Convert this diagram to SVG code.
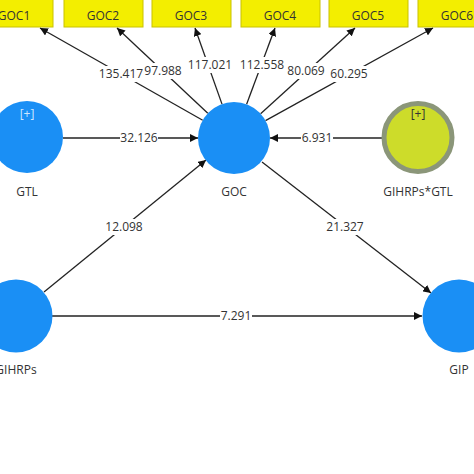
<svg xmlns="http://www.w3.org/2000/svg" width="474" height="474" viewBox="0 0 474 474">
<style>
text{font-family:"Open Sans","Liberation Sans",sans-serif;font-size:12px;fill:#333;text-anchor:middle}
.box{fill:#f3ee00;stroke:#c9c200;stroke-width:1}
.lv{fill:#1a8ff5}
.bg{fill:#fff}
.c{stroke:#222;stroke-width:1.3;fill:none;marker-end:url(#ah)}
</style>
<defs>
<marker id="ah" viewBox="0 0 10 10" refX="10" refY="5" markerWidth="8" markerHeight="8" markerUnits="userSpaceOnUse" orient="auto">
<path d="M0,0 L10,5 L0,10 z" fill="#111"/>
</marker>
</defs>
<rect width="474" height="474" fill="#fff"/>
<g id="GOC1"><rect class="box" x="-26" y="-6" width="79" height="33"/><text x="14" y="20">GOC1</text></g>
<g id="GOC2"><rect class="box" x="64" y="-6" width="79" height="33"/><text x="103" y="20">GOC2</text></g>
<g id="GOC3"><rect class="box" x="152" y="-6" width="79" height="33"/><text x="191" y="20">GOC3</text></g>
<g id="GOC4"><rect class="box" x="241" y="-6" width="79" height="33"/><text x="280" y="20">GOC4</text></g>
<g id="GOC5"><rect class="box" x="329" y="-6" width="79" height="33"/><text x="368" y="20">GOC5</text></g>
<g id="GOC6"><rect class="box" x="418" y="-6" width="79" height="33"/><text x="457" y="20">GOC6</text></g>
<g id="connectors">
<line class="c" x1="202.7" y1="120.2" x2="40" y2="28"/>
<line class="c" x1="207.8" y1="113.3" x2="117" y2="28"/>
<line class="c" x1="222" y1="104.1" x2="195" y2="28"/>
<line class="c" x1="246.6" y1="104.3" x2="275" y2="28"/>
<line class="c" x1="260.6" y1="113.8" x2="355" y2="28"/>
<line class="c" x1="265.5" y1="120.6" x2="433" y2="28"/>
<line class="c" x1="63" y1="138" x2="198" y2="138"/>
<line class="c" x1="382" y1="138" x2="270" y2="138"/>
<line class="c" x1="44" y1="292" x2="206" y2="160"/>
<line class="c" x1="262" y1="162" x2="431" y2="293"/>
<line class="c" x1="52" y1="316" x2="422" y2="316"/>
<rect class="bg" x="99" y="66" width="44" height="16"/>
<rect class="bg" x="144" y="63" width="38" height="16"/>
<rect class="bg" x="188" y="57" width="44" height="16"/>
<rect class="bg" x="240" y="57" width="44" height="16"/>
<rect class="bg" x="287" y="63" width="38" height="16"/>
<rect class="bg" x="330" y="66" width="38" height="16"/>
<rect class="bg" x="120" y="130" width="38" height="16"/>
<rect class="bg" x="301" y="130" width="32" height="16"/>
<rect class="bg" x="105" y="219" width="38" height="16"/>
<rect class="bg" x="326" y="219" width="38" height="16"/>
<rect class="bg" x="220" y="308" width="32" height="16"/>
<text x="121" y="78">135.417</text>
<text x="163" y="75">97.988</text>
<text x="210" y="69">117.021</text>
<text x="262" y="69">112.558</text>
<text x="306" y="75">80.069</text>
<text x="349" y="78">60.295</text>
<text x="139" y="142">32.126</text>
<text x="317" y="142">6.931</text>
<text x="124" y="231">12.098</text>
<text x="345" y="231">21.327</text>
<text x="236" y="320">7.291</text>
</g>
<g id="GTL"><circle class="lv" cx="27" cy="137" r="36"/><text x="27" y="118" style="fill:#cfe6ff">[+]</text><text x="27" y="196">GTL</text></g>
<g id="GOC"><circle class="lv" cx="234" cy="138" r="36"/><text x="234" y="196">GOC</text></g>
<g id="GIHRPsGTL"><circle cx="418" cy="137.5" r="34" fill="#cddc2a" stroke="#8b9679" stroke-width="5"/><text x="418" y="118" style="fill:#333">[+]</text><text x="418" y="196">GIHRPs*GTL</text></g>
<g id="GIHRPs"><circle class="lv" cx="16" cy="316" r="36.5"/><text x="16" y="374">GIHRPs</text></g>
<g id="GIP"><circle class="lv" cx="459" cy="316" r="36.5"/><text x="459" y="374">GIP</text></g>
</svg>
